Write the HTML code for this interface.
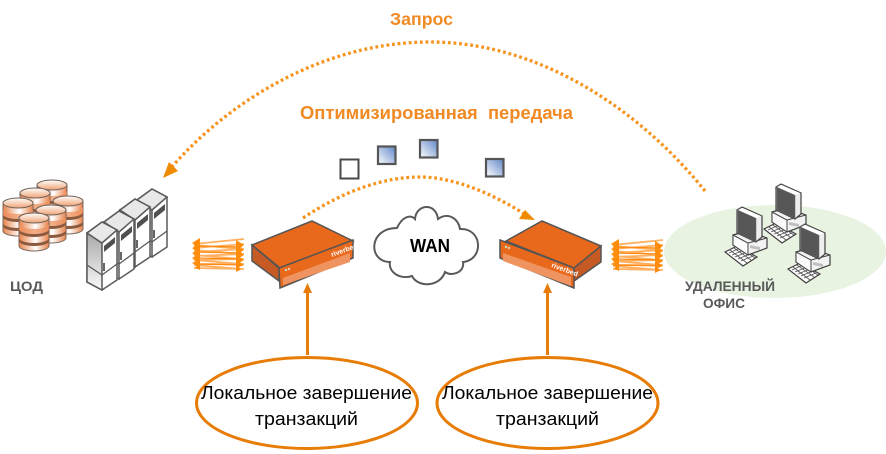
<!DOCTYPE html>
<html><head><meta charset="utf-8">
<style>
html,body{margin:0;padding:0;background:#fff}
svg{display:block}
text{font-family:"Liberation Sans","Noto Sans CJK SC",sans-serif}
</style></head>
<body>
<svg width="886" height="454" viewBox="0 0 886 454" xmlns="http://www.w3.org/2000/svg">
<defs>
<linearGradient id="cyl" x1="0" x2="1" y1="0" y2="0"><stop offset="0" stop-color="#e8824a"/><stop offset=".55" stop-color="#fff"/><stop offset="1" stop-color="#e8824a"/></linearGradient>
<linearGradient id="top" x1="0" x2="0" y1="0" y2="1"><stop offset="0" stop-color="#fff"/><stop offset="1" stop-color="#f0a273"/></linearGradient>
<linearGradient id="blue" x1="1" x2="0" y1="0" y2="1"><stop offset="0" stop-color="#5f86c6"/><stop offset="1" stop-color="#fff"/></linearGradient>
<linearGradient id="sv" x1="0" x2="0" y1="0" y2="1"><stop offset="0" stop-color="#a8a8a8"/><stop offset="1" stop-color="#fafafa"/></linearGradient>
<symbol id="db" overflow="visible">
<path d="M0 5V33A15 5 0 0 0 30 33V5Z" fill="url(#cyl)" stroke="#7d6a5e" stroke-width="1"/>
<path d="M0 16A15 5 0 0 0 30 16V19A15 5 0 0 1 0 19Z" fill="#8c5a3e"/>
<path d="M0 25A15 5 0 0 0 30 25V28A15 5 0 0 1 0 28Z" fill="#8c5a3e"/>
<path d="M0 11A15 5 0 0 0 30 11V16A15 5 0 0 1 0 16Z" fill="#ee9260" opacity=".75"/>
<ellipse cx="15" cy="5" rx="15" ry="5" fill="url(#top)" stroke="#6f6259" stroke-width="1"/>
</symbol>
<symbol id="srv" overflow="visible">
<path d="M0 11L15 0L30 8V58L15 68L0 60Z" fill="#fff" stroke="#5a5a5a" stroke-width="1.500"/>
<path d="M0 11L15 21V68L0 60Z" fill="url(#sv)" stroke="#5a5a5a" stroke-width="1.500"/>
<path d="M0 11L15 0L30 8L15 21Z" fill="#e8e8e8" stroke="#5a5a5a" stroke-width="1.500"/>
<path d="M17 24L28 15V21L17 30Z" fill="#505050"/>
<path d="M0 43L15 53L30 42" fill="none" stroke="#5a5a5a" stroke-width="1.300"/>
<path d="M17 41V49" stroke="#555" stroke-width="1.800"/>
</symbol>
<symbol id="pc" overflow="visible">
<path d="M1 45L13 39L33 50L19 59Z" fill="#fff" stroke="#3f3f3f" stroke-width="1.200"/>
<path d="M5 46L16 41M8 48L20 43M11 50L23 45M14 52L26 47M17 54L29 49M6 43L23 56M10 41L27 53M15 40L31 51" stroke="#555" stroke-width=".9" fill="none"/>
<path d="M9 28L24 24L43 31V41L24 48L9 38Z" fill="#f3f3f3" stroke="#3f3f3f" stroke-width="1.200"/>
<path d="M9 28L24 36V48L9 38Z" fill="#fafafa" stroke="#444" stroke-width="1"/>
<path d="M24 36L43 31" stroke="#444" stroke-width="1"/>
<path d="M13 3L18 0L38 9V30L32 35L13 26Z" fill="#eee" stroke="#3f3f3f" stroke-width="1.200"/>
<path d="M14 3L32 11V35L14 26Z" fill="#575757" stroke="#666" stroke-width=".5"/>
<path d="M14 3L18 1L37 9L32 11Z" fill="#fff"/>
<path d="M26 38L36 40V43L26 41Z" fill="#bfbfbf"/>
</symbol>
<symbol id="bundle" overflow="visible">
<g stroke="#ffb060" stroke-width="1.800" fill="none">
<path d="M2 6L52 1M2 10L52 6M2 14L52 11M2 18L52 16M2 22L52 21M2 26L52 26M2 30L52 31M2 7L50 11M2 12L50 16M2 17L50 21M2 22L50 26M2 27L50 31"/>
</g>
<g stroke="#ff8a10" stroke-width="1.200" fill="none"><path d="M2 8L50 9M2 14L50 15M2 20L50 21M2 26L50 27"/></g>
<path d="M8 0V32L3 29.500L5 27.500L0 25L4 23L0 20L4 18L0 15L4 13L0 10L4 8L0 5Z" fill="#ff8c0a"/>
<path d="M44 2V34L49 31.500L47 29L52 27L48 24.500L52 22L48 19.500L52 17L48 14.500L52 12L48 9.500L52 7Z" fill="#ff8c0a"/>
</symbol>
</defs>

<ellipse cx="775" cy="251.500" rx="111" ry="46.500" fill="#e8f3e2"/>

<path d="M705 191C640 110 540 42 430 42C320 42 225 105 171 168" fill="none" stroke="#f7941d" stroke-width="3.300" stroke-dasharray="2.800 2.800"/>
<path d="M163 178L169 162L178 171Z" fill="#f08a00"/>
<path d="M303 218C345 190 385 177 420 177C455 177 495 195 526 215" fill="none" stroke="#f7941d" stroke-width="3.300" stroke-dasharray="2.800 2.800"/>
<path d="M535 220L525 210L519 219Z" fill="#f08a00"/>

<use href="#db" x="37" y="180"/>
<use href="#db" x="20" y="188"/>
<use href="#db" x="53" y="196"/>
<use href="#db" x="3" y="198"/>
<use href="#db" x="36" y="205"/>
<use href="#db" x="19" y="213"/>

<use href="#srv" x="137" y="189"/>
<use href="#srv" x="120" y="199"/>
<use href="#srv" x="104" y="211"/>
<use href="#srv" x="87" y="222"/>

<use href="#bundle" x="192" y="238"/>
<use href="#bundle" x="611" y="239"/>

<path d="M252 245L312 221L353 241L280 268Z" fill="#e9691c" stroke="#555" stroke-width="1.500"/>
<path d="M252 245L279 268V281L252 261Z" fill="#c55a24" stroke="#555" stroke-width="1.500"/>
<path d="M279 268L353 240V258L280 288Z" fill="#e9691c" stroke="#555" stroke-width="1.500"/>
<path d="M283 278L350 253V262L283 285Z" fill="#ef9460"/>
<circle cx="286" cy="270" r="1.200" fill="#bfe0c0"/><circle cx="289" cy="269" r="1.200" fill="#f7c7a8"/>
<text x="332" y="257" font-size="7" font-weight="bold" fill="#fff" transform="rotate(-20 332 257)">riverbed</text>

<path d="M506 241L542 221L601 246L574 268Z" fill="#e9691c" stroke="#555" stroke-width="1.500"/>
<path d="M574 268L601 246V262L574 281Z" fill="#c55a24" stroke="#555" stroke-width="1.500"/>
<path d="M500 240L574 268V288L500 258Z" fill="#e9691c" stroke="#555" stroke-width="1.500"/>
<path d="M503 253L571 277V286L503 261Z" fill="#ef9460"/>
<circle cx="506" cy="247" r="1.200" fill="#bfe0c0"/><circle cx="509" cy="248" r="1.200" fill="#f7c7a8"/>
<text x="551" y="267" font-size="7" font-weight="bold" fill="#fff" transform="rotate(20 551 267)">riverbed</text>

<path d="M397 228C402 217 410 214 415 219C416 204 436 202 438 219C448 212 458 218 460 229C483 228 484 260 463 262C465 272 452 277 445 272C440 287 418 288 412 276C400 280 388 272 390 262C368 262 368 228 397 228Z" fill="#fff" stroke="#5a5a5a" stroke-width="2"/>
<text x="430" y="252" font-size="18" font-weight="bold" fill="#000" text-anchor="middle" textLength="40" lengthAdjust="spacingAndGlyphs">WAN</text>

<rect x="340.500" y="159.500" width="18" height="19" fill="#fff" stroke="#4a4a4a" stroke-width="2"/>
<rect x="378" y="146.500" width="17.500" height="17.500" fill="url(#blue)" stroke="#555" stroke-width="2.200"/>
<rect x="420" y="140" width="17.500" height="17.500" fill="url(#blue)" stroke="#555" stroke-width="2.200"/>
<rect x="486" y="159" width="17.500" height="17.500" fill="url(#blue)" stroke="#555" stroke-width="2.200"/>

<use href="#pc" x="724" y="207"/>
<use href="#pc" x="763" y="184"/>
<use href="#pc" x="787" y="224"/>

<path d="M307.500 355V292" stroke="#e77c06" stroke-width="3"/>
<path d="M307.500 283L303 293H312Z" fill="#e77c06"/>
<path d="M547.500 355V292" stroke="#e77c06" stroke-width="3"/>
<path d="M547.500 283L543 293H552Z" fill="#e77c06"/>

<ellipse cx="307" cy="403" rx="110.500" ry="45.500" fill="#fff" stroke="#e77c06" stroke-width="3"/>
<ellipse cx="547.500" cy="403" rx="110.500" ry="45.500" fill="#fff" stroke="#e77c06" stroke-width="3"/>

<text x="390" y="25" font-size="17.500" font-weight="bold" fill="#f08a24" textLength="63" lengthAdjust="spacingAndGlyphs">Запрос</text>
<text x="300" y="119" font-size="18.500" font-weight="bold" fill="#f08a24" textLength="273" lengthAdjust="spacingAndGlyphs">Оптимизированная&#160; передача</text>
<text x="10" y="291" font-size="14" font-weight="bold" fill="#595959" textLength="33" lengthAdjust="spacingAndGlyphs">ЦОД</text>
<text x="685" y="291" font-size="14" font-weight="bold" fill="#595959" textLength="90" lengthAdjust="spacingAndGlyphs">УДАЛЕННЫЙ</text>
<text x="703" y="308" font-size="14" font-weight="bold" fill="#595959" textLength="42" lengthAdjust="spacingAndGlyphs">ОФИС</text>
<text x="201" y="399" font-size="18.500" fill="#000" textLength="211" lengthAdjust="spacingAndGlyphs">Локальное завершение</text>
<text x="255" y="425" font-size="18.500" fill="#000" textLength="103" lengthAdjust="spacingAndGlyphs">транзакций</text>
<text x="442" y="399" font-size="18.500" fill="#000" textLength="211" lengthAdjust="spacingAndGlyphs">Локальное завершение</text>
<text x="496" y="425" font-size="18.500" fill="#000" textLength="103" lengthAdjust="spacingAndGlyphs">транзакций</text>
</svg>
</body></html>
